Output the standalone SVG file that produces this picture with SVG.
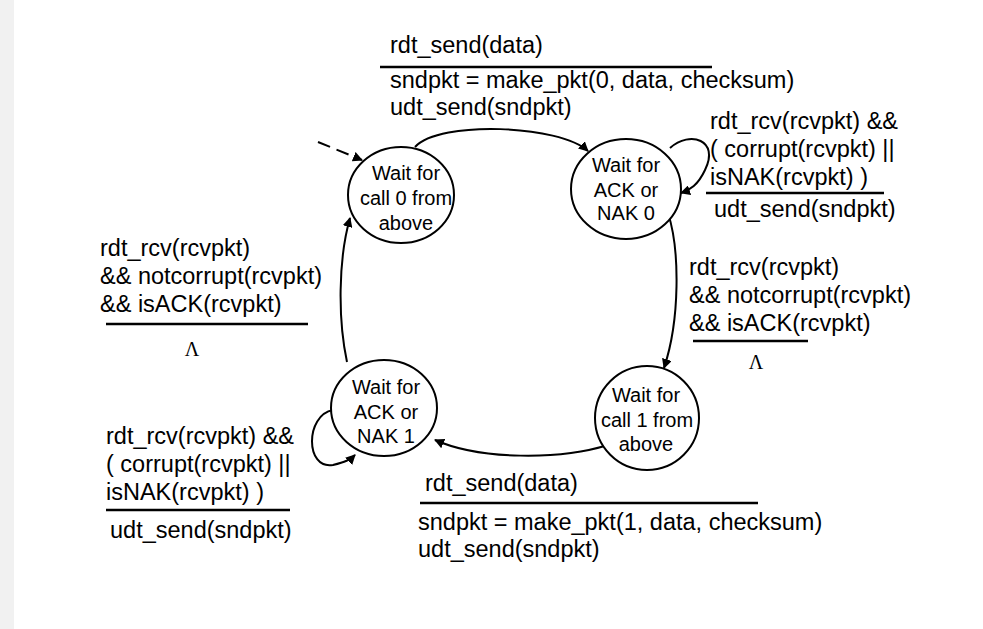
<svg xmlns="http://www.w3.org/2000/svg" width="983" height="629" viewBox="0 0 983 629">
<defs><marker id="a" markerWidth="10" markerHeight="10" refX="9" refY="5" orient="auto" markerUnits="userSpaceOnUse"><path d="M0,0 L10,5 L0,10 z" fill="#000"/></marker></defs>
<style>
.s{fill:#fff;stroke:#000;stroke-width:2}
.n{font-family:"Liberation Sans",Arial,sans-serif;font-size:20px;text-anchor:middle}
.t{font-family:"Liberation Sans",Arial,sans-serif;font-size:23.5px}
.l{font-family:"Liberation Serif",serif;font-size:20px;text-anchor:middle}
.e{fill:none;stroke:#000;stroke-width:2;marker-end:url(#a)}
.b{stroke:#000;stroke-width:2.5}
</style>
<rect width="983" height="629" fill="#fff"/>
<rect x="0" y="0" width="14" height="629" fill="#f1f1f1"/>
<g id="connectors">
<path class="e" d="M318,142 L362,160" stroke-dasharray="13,7" stroke-width="3"/>
<path class="e" d="M415,147 C440,120 560,125 588,151"/>
<path class="e" d="M668,213 C680,250 680,320 664,368"/>
<path class="e" d="M608,445 C560,460 480,460 435,440"/>
<path class="e" d="M347,362 C338,320 338,260 350,218"/>
<path class="e" d="M670,148 C690,130 720,140 705,170 C698,185 690,190 681,193"/>
<path class="e" d="M333,410 C305,415 305,470 333,465 C345,462 350,460 355,455"/>
</g>
<g id="s0"><ellipse class="s" cx="401" cy="195" rx="53" ry="48"/><text class="n" x="406" y="180">Wait for</text><text class="n" x="406" y="205">call 0 from</text><text class="n" x="406" y="230">above</text></g>
<g id="s1"><ellipse class="s" cx="626" cy="189" rx="55" ry="50"/><text class="n" x="626" y="172">Wait for</text><text class="n" x="626" y="197">ACK or</text><text class="n" x="626" y="220">NAK 0</text></g>
<g id="s2"><ellipse class="s" cx="647" cy="418" rx="52" ry="52"/><text class="n" x="646" y="402">Wait for</text><text class="n" x="647" y="427">call 1 from</text><text class="n" x="646" y="451">above</text></g>
<g id="s3"><ellipse class="s" cx="384" cy="408" rx="53" ry="48"/><text class="n" x="386" y="394">Wait for</text><text class="n" x="386" y="419">ACK or</text><text class="n" x="386" y="443">NAK 1</text></g>
<g id="labels">
<text class="t" x="390" y="53">rdt_send(data)</text>
<line class="b" x1="380" y1="67" x2="712" y2="67"/>
<text class="t" x="390" y="88">sndpkt = make_pkt(0, data, checksum)</text>
<text class="t" x="390" y="115">udt_send(sndpkt)</text>
<text class="t" x="710" y="129">rdt_rcv(rcvpkt) &amp;&amp;</text>
<text class="t" x="710" y="157">( corrupt(rcvpkt) ||</text>
<text class="t" x="710" y="185">isNAK(rcvpkt) )</text>
<line class="b" x1="706" y1="193" x2="884" y2="193"/>
<text class="t" x="714" y="217">udt_send(sndpkt)</text>
<text class="t" x="689" y="275">rdt_rcv(rcvpkt)</text>
<text class="t" x="689" y="303">&amp;&amp; notcorrupt(rcvpkt)</text>
<text class="t" x="689" y="331">&amp;&amp; isACK(rcvpkt)</text>
<line class="b" x1="693" y1="341" x2="808" y2="341"/>
<text class="l" x="756" y="369">Λ</text>
<text class="t" x="100" y="256">rdt_rcv(rcvpkt)</text>
<text class="t" x="100" y="284">&amp;&amp; notcorrupt(rcvpkt)</text>
<text class="t" x="100" y="312">&amp;&amp; isACK(rcvpkt)</text>
<line class="b" x1="106" y1="324" x2="308" y2="324"/>
<text class="l" x="192" y="356">Λ</text>
<text class="t" x="106" y="444">rdt_rcv(rcvpkt) &amp;&amp;</text>
<text class="t" x="106" y="472">( corrupt(rcvpkt) ||</text>
<text class="t" x="106" y="500">isNAK(rcvpkt) )</text>
<line class="b" x1="106" y1="510" x2="290" y2="510"/>
<text class="t" x="110" y="538">udt_send(sndpkt)</text>
<text class="t" x="425" y="491">rdt_send(data)</text>
<line class="b" x1="420" y1="503" x2="758" y2="503"/>
<text class="t" x="418" y="530">sndpkt = make_pkt(1, data, checksum)</text>
<text class="t" x="418" y="557">udt_send(sndpkt)</text>
</g>
</svg>
